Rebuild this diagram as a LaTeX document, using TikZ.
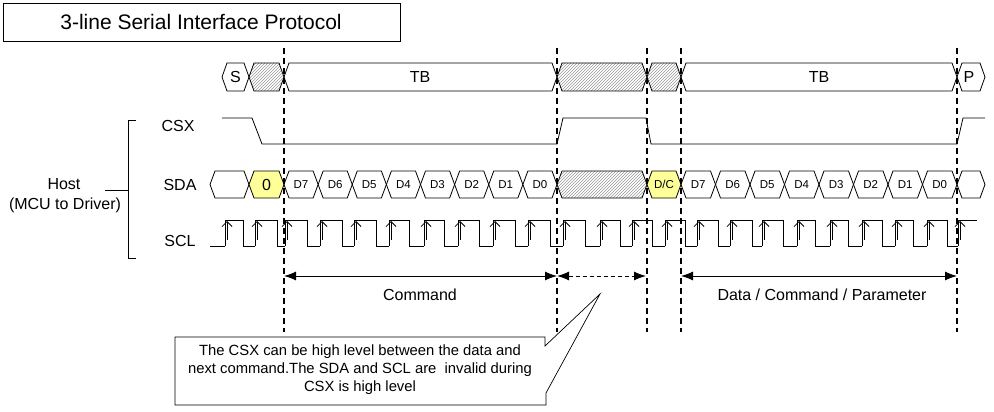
\documentclass[tikz,border=0pt]{standalone}
\usepackage{fontspec}
\setmainfont{Liberation Sans}
\usetikzlibrary{patterns,arrows.meta}
\definecolor{bityellow}{RGB}{255,255,153}

% bus segment: x1, x2, y centre, half height, style
\newcommand{\bushex}[5]{%
  \draw[#5] (#1,#3) -- (#1+5,#3-#4) -- (#2-5,#3-#4) -- (#2,#3) -- (#2-5,#3+#4) -- (#1+5,#3+#4) -- cycle;}

\tikzset{
  wave/.style={line width=0.8pt},
  hatch/.style={wave, pattern=north east lines, pattern color=gray!80},
  marker/.style={line width=1.4pt, dash pattern=on 6pt off 4pt},
  txt/.style={font=\fontsize{16}{18}\selectfont, inner sep=0pt},
  bit/.style={font=\fontsize{11.5}{13}\selectfont, inner sep=0pt},
  dim/.style={line width=1pt, {Latex[length=12,width=9]}-{Latex[length=12,width=9]}}
}

\begin{document}
\begin{tikzpicture}[x=1pt,y=-1pt]
\useasboundingbox (0,0) rectangle (994,412);

% title
\draw[line width=0.8pt] (3,3) rectangle (400,41);
\node[txt, font=\fontsize{21}{23}\selectfont] (title) at (201,22) {3-line Serial Interface Protocol};

% signal names
\node[txt] (csx) at (178,126) {CSX};
\node[txt] (sda) at (180,185) {SDA};
\node[txt] (scl) at (180,241) {SCL};
\node[txt] (host) at (64,184) {Host};
\node[txt] (mcu) at (65,205) {(MCU to Driver)};
\draw[wave] (136,120) -- (128,120) -- (128,258) -- (136,258);
\coordinate (hostend) at (105,190);
\draw[wave] (hostend) -- (128,190);

% top bus
\bushex{222}{249}{77}{14}{wave}
\node[txt] (start) at (235.5,77) {S};
\bushex{249}{284}{77}{14}{hatch}
\bushex{284}{557}{77}{14}{wave}
\node[txt] (tbone) at (420,77) {TB};
\bushex{557}{647}{77}{14}{hatch}
\bushex{647}{681}{77}{14}{hatch}
\bushex{681}{957}{77}{14}{wave}
\node[txt] (tbtwo) at (819,77) {TB};
\bushex{957}{985}{77}{14}{wave}
\node[txt] (stop) at (969,77) {P};

% CSX
\draw[wave] (222,118) -- (252,118) -- (262,144) -- (557,144) -- (563,118) -- (646,118)
  -- (651,144) -- (957,144) -- (963,118) -- (985,118);

% SDA
\bushex{210}{249}{184.5}{13.5}{wave}
\bushex{249}{284}{184.5}{13.5}{wave, fill=bityellow}
\node[txt] (zero) at (266.5,184.5) {0};
\foreach \t [count=\i from 0] in {D7,D6,D5,D4,D3,D2,D1,D0} {
  \pgfmathsetmacro\xa{284+34.125*\i}
  \bushex{\xa}{\xa+34.125}{184.5}{13.5}{wave}
  \node[bit] (cmd\i) at (\xa+17,184.5) {\t};
}
\bushex{557}{647}{184.5}{13.5}{hatch}
\bushex{647}{681}{184.5}{13.5}{wave, fill=bityellow}
\node[bit] (dc) at (664,184.5) {D/C};
\foreach \t [count=\i from 0] in {D7,D6,D5,D4,D3,D2,D1,D0} {
  \pgfmathsetmacro\xa{681+34.5*\i}
  \bushex{\xa}{\xa+34.5}{184.5}{13.5}{wave}
  \node[bit] (par\i) at (\xa+17.25,184.5) {\t};
}
\bushex{957}{985}{184.5}{13.5}{wave}

% SCL
\foreach \rise/\fall in {225/243,255/277,285/307,320/342,354/376,389/409,424/444,458/479,493/515,528/550,563/585,600/620,632/652,665/685,697/718,730/752,762/783,797/815,830/848,862/882,895/913,927/947}
  \draw[wave] (\rise,246) -- (\rise,220) -- (\fall,220) -- (\fall,246);
\foreach \fall/\rise in {210/225,243/255,277/285,307/320,342/354,376/389,409/424,444/458,479/493,515/528,550/563,585/600,620/632,652/665,685/697,718/730,752/762,783/797,815/830,848/862,882/895,913/927,947/958}
  \draw[wave] (\fall,246) -- (\rise,246);
\draw[wave] (958,246) -- (958,220) -- (977,220);
\foreach \rise in {225,255,285,320,354,389,424,458,493,528,563,600,632,665,697,730,762,797,830,862,895,927,958}
  \draw[wave, -{Straight Barb[length=5,width=10]}] (\rise+2,240) -- (\rise+2,221);

% marker lines
\foreach \x [count=\i] in {284,557,647,681,957} {
  \coordinate (mtop\i) at (\x,48);
  \coordinate (mbot\i) at (\x,332);
  \draw[marker] (mtop\i) -- (mbot\i);
}

% dimensions
\coordinate (c1) at (284,276);
\coordinate (c2) at (557,276);
\coordinate (c3) at (646,276);
\coordinate (c4) at (681,276);
\coordinate (c5) at (957,276);
\draw[dim] (c1) -- (c2);
\draw[dim, dash pattern=on 4pt off 3pt] (c2) -- (c3);
\draw[dim] (c4) -- (c5);
\node[txt] (cmdlbl) at (420,295) {Command};
\node[txt] (parlbl) at (822,295) {Data / Command / Parameter};

% callout
\coordinate (tip) at (600,294);
\draw[line width=0.7pt, fill=white] (175,337) -- (545,337) -- (545,346) -- (tip) -- (546,393)
  -- (546,405) -- (175,405) -- cycle;
\node[txt, font=\fontsize{14.8}{18}\selectfont, align=center] (note) at (360,370)
  {The CSX can be high level between the data and\\next command.The SDA and SCL are\ \ invalid during\\CSX is high level};
\end{tikzpicture}
\end{document}
